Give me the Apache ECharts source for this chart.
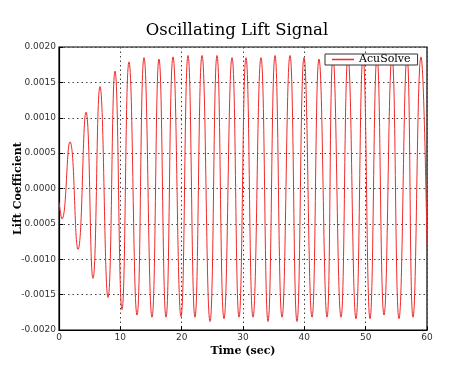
<!DOCTYPE html>
<html>
<head>
<meta charset="utf-8">
<script src="https://cdn.jsdelivr.net/npm/echarts@6/dist/echarts.min.js"></script>
<style>html,body{margin:0;padding:0;background:#fff}#c{width:474px;height:378px}</style>
</head>
<body>
<div id="c"></div>
<script>
// Extrema of the lift signal: time (sec) and lift coefficient
const times = [0, 0.49, 1.79, 3.10, 4.40, 5.54, 6.68, 7.99, 9.13, 10.27, 11.41, 12.72, 13.86, 15.16, 16.30, 17.45, 18.59, 19.89, 21.03, 22.17, 23.32, 24.62, 25.76, 26.90, 28.21, 29.35, 30.49, 31.63, 32.93, 34.08, 35.22, 36.36, 37.66, 38.80, 39.95, 41.25, 42.39, 43.70, 44.67, 45.98, 47.12, 48.42, 49.57, 50.71, 51.85, 52.99, 54.29, 55.43, 56.74, 57.72, 59.02, 60];
const lift = [-0.00019, -0.00043, 0.00066, -0.00086, 0.00108, -0.00127, 0.00144, -0.00154, 0.00166, -0.00171, 0.00179, -0.00179, 0.00185, -0.00182, 0.00183, -0.00182, 0.00186, -0.00181, 0.00188, -0.00182, 0.00188, -0.00188, 0.00188, -0.00184, 0.00185, -0.00182, 0.00185, -0.00182, 0.00185, -0.00188, 0.00188, -0.00182, 0.00188, -0.00188, 0.00185, -0.00182, 0.00183, -0.00182, 0.00186, -0.00182, 0.00186, -0.00184, 0.00186, -0.00184, 0.00186, -0.00179, 0.00186, -0.00184, 0.00186, -0.00182, 0.00186, -0.0008];
const xTickLabels = ['0', '10', '20', '30', '40', '50', '60'];
const yTickValues = [-0.002, -0.0015, -0.001, -0.0005, 0, 0.0005, 0.001, 0.0015, 0.002];
const yTickLabels = ['-0.0020', '-0.0015', '-0.0010', '0.0005', '0.0000', '0.0005', '0.0010', '0.0015', '0.0020'];
const seriesName = 'AcuSolve';

const data = times.map((t, i) => [t, lift[i]]);
const chart = echarts.init(document.getElementById('c'), null, {renderer: 'canvas'});
const labelFor = v => {
  for (let i = 0; i < yTickValues.length; i++) if (Math.abs(yTickValues[i] - v) < 1e-9) return yTickLabels[i];
  return '';
};
const red = '#f02828';
chart.setOption({
  animation: false,
  color: [red],
  title: {
    text: 'Oscillating Lift Signal', left: 'center', top: 17,
    textStyle: {fontFamily: 'DejaVu Serif', fontSize: 16.5, fontWeight: 'normal', color: '#000'}
  },
  legend: {
    data: [{name: seriesName, icon: 'rect', itemStyle: {color: red, borderColor: red, borderWidth: 0, opacity: 1}}],
    left: 325, top: 54, orient: 'horizontal',
    backgroundColor: '#fff', borderColor: '#333', borderWidth: 1, borderRadius: 0,
    padding: [0, 7, 0, 7], itemWidth: 22, itemHeight: 1.5, itemGap: 4,
    textStyle: {fontFamily: 'DejaVu Serif', fontSize: 11, color: '#000', padding: [0, 0, 0, 0]}
  },
  grid: {left: 59, right: 47, top: 47, bottom: 48, containLabel: false, outerBoundsMode: 'none',
    show: true, borderColor: '#000', borderWidth: 1.2, backgroundColor: 'transparent'},
  xAxis: {
    type: 'value', min: 0, max: 60, interval: 10,
    name: 'Time (sec)', nameLocation: 'middle', nameGap: 16, nameMoveOverlap: false,
    nameTextStyle: {fontFamily: 'DejaVu Serif', fontSize: 11, fontWeight: 'bold', color: '#000'},
    axisLine: {show: true, onZero: false, lineStyle: {color: '#000', width: 1.2}},
    axisTick: {show: true, inside: true, length: 4, lineStyle: {color: '#000'}},
    axisLabel: {margin: 3, fontFamily: 'DejaVu Sans', fontSize: 9, color: '#333', formatter: v => xTickLabels[Math.round(v / 10)]},
    splitLine: {show: true, lineStyle: {type: [1.5, 3], color: '#444', width: 1}}
  },
  yAxis: {
    type: 'value', min: -0.002, max: 0.002, interval: 0.0005,
    name: 'Lift Coefficient', nameLocation: 'middle', nameGap: 35, nameMoveOverlap: false,
    nameTextStyle: {fontFamily: 'DejaVu Serif', fontSize: 11, fontWeight: 'bold', color: '#000'},
    axisLine: {show: true, onZero: false, lineStyle: {color: '#000', width: 1.2}},
    axisTick: {show: true, inside: true, length: 4, lineStyle: {color: '#000'}},
    axisLabel: {margin: 3, fontFamily: 'DejaVu Sans', fontSize: 9, color: '#333', formatter: labelFor},
    splitLine: {show: true, lineStyle: {type: [1.5, 3], color: '#444', width: 1}}
  },
  series: [{
    name: seriesName, type: 'line', data: data, smooth: 0.5, showSymbol: false, symbol: 'none',
    color: red, lineStyle: {color: red, width: 1}, itemStyle: {color: red}, clip: true
  }]
});
</script>
</body>
</html>
